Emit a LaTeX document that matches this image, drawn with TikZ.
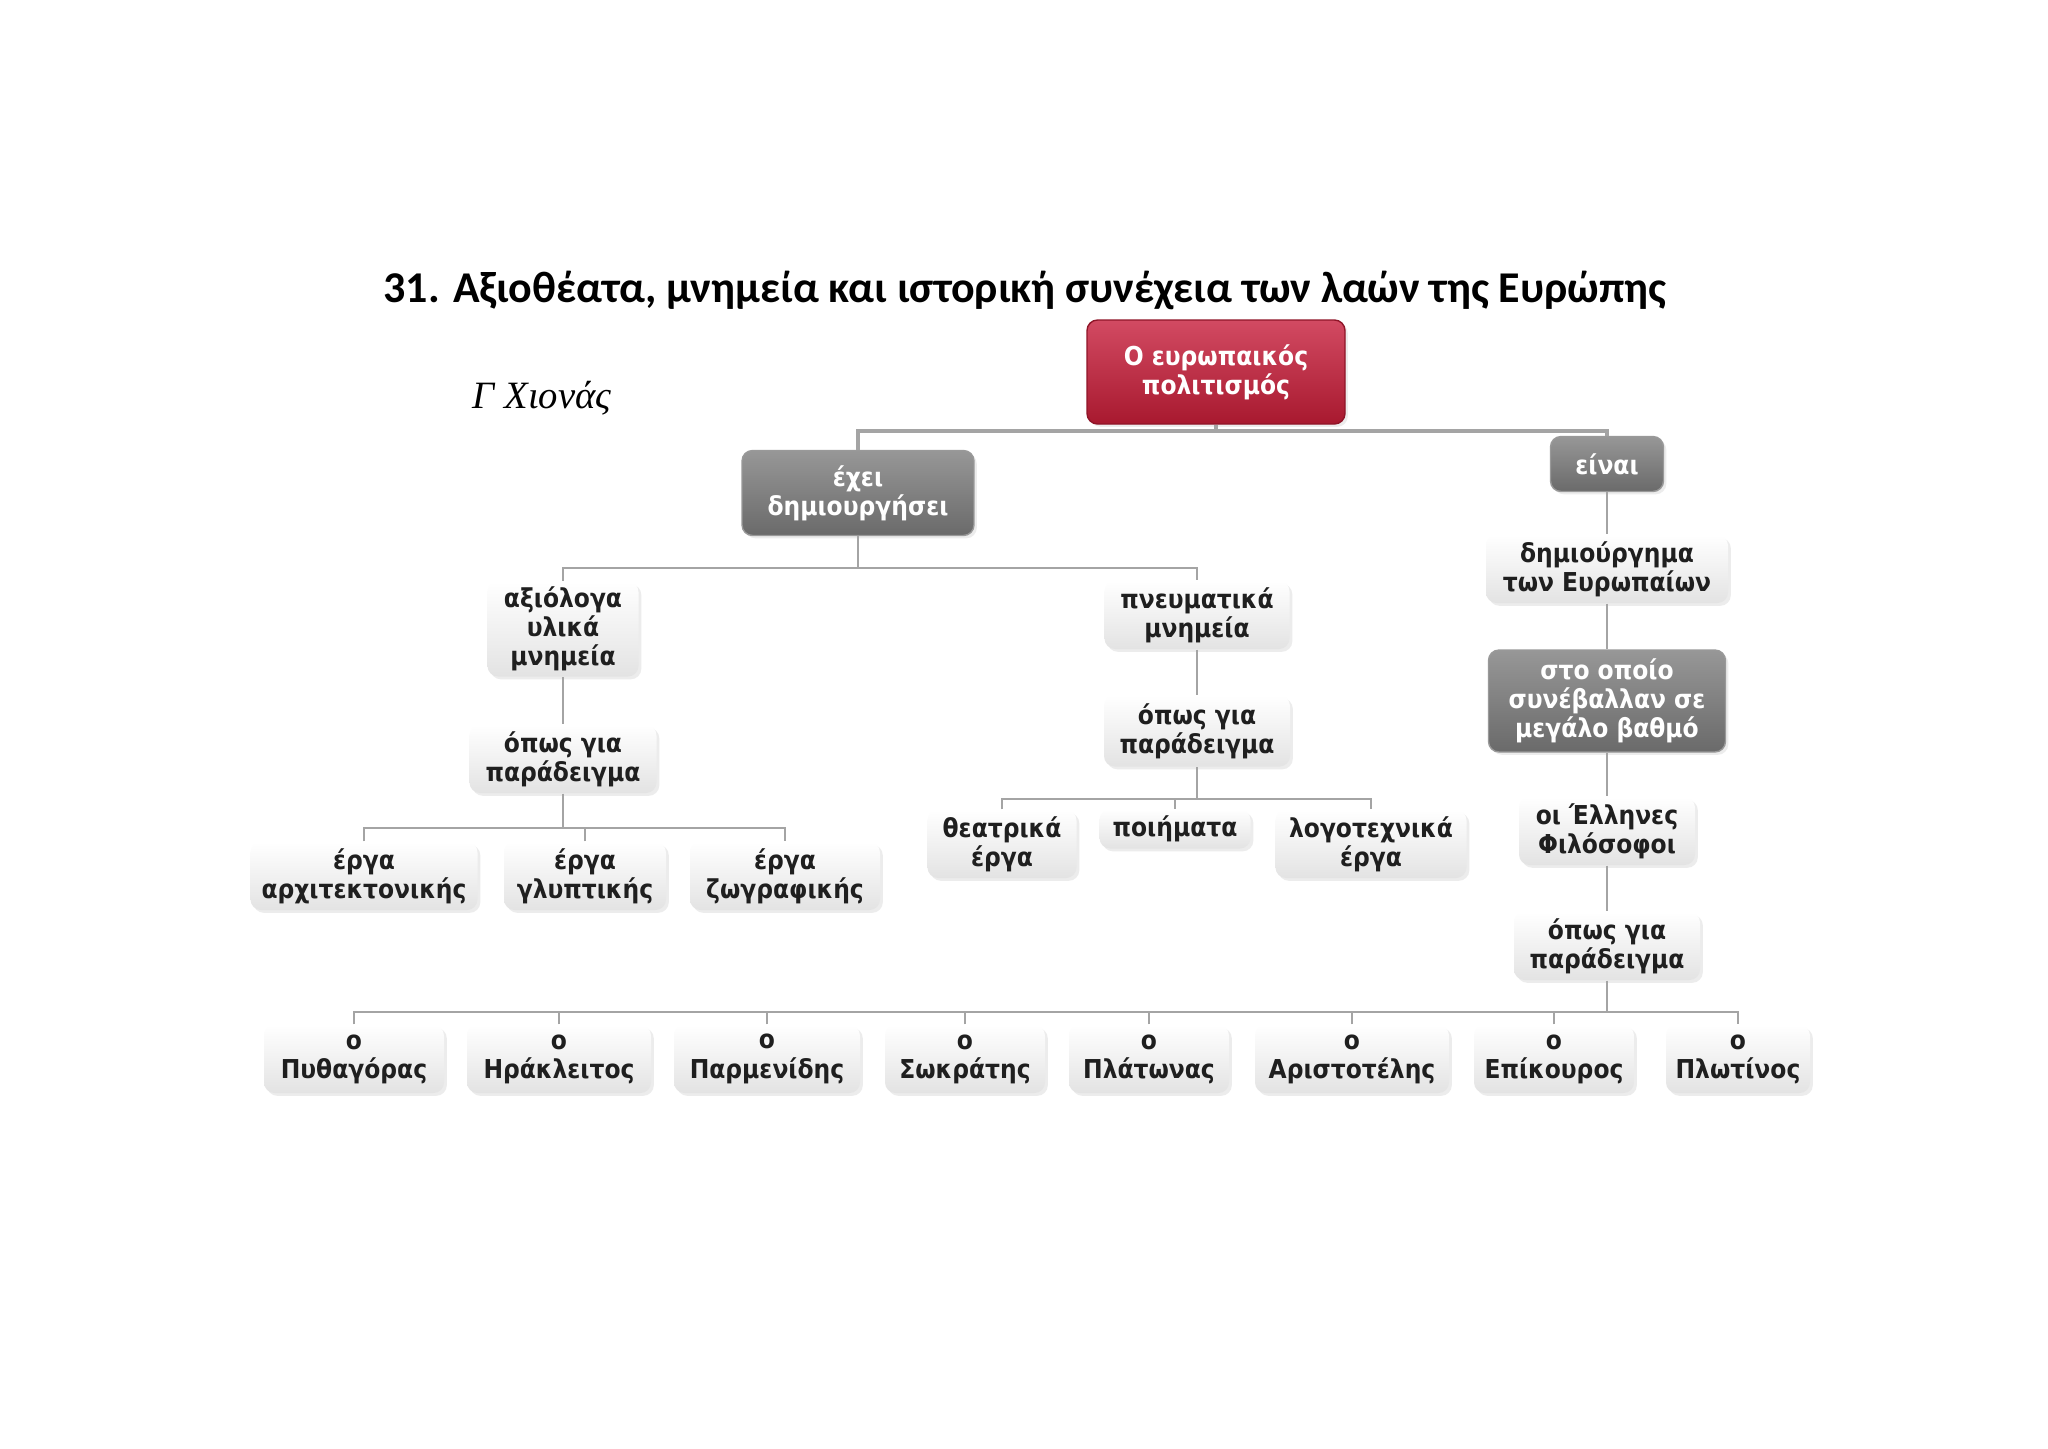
\documentclass[tikz,border=0pt]{standalone}
\usepackage{fontspec}
\setmainfont{DejaVu Sans Condensed}
\newfontfamily\titlefont{Carlito}
\newfontfamily\signfont{Liberation Serif}
\usetikzlibrary{shadows}
\definecolor{redtop}{HTML}{D24A62}
\definecolor{redbot}{HTML}{A8192F}
\definecolor{greytop}{HTML}{979797}
\definecolor{greybot}{HTML}{6A6A6A}
\definecolor{linegrey}{HTML}{A4A4A4}
\tikzset{
  sz/.style 2 args={minimum width=#1*0.01cm, minimum height=#2*0.01cm},
  box/.style={rounded corners=3pt, align=center, inner sep=1pt,
    font=\bfseries\fontsize{7.4}{8.3}\selectfont,
    drop shadow={opacity=0.15, shadow xshift=0.8pt, shadow yshift=-0.8pt}},
  lightbox/.style={box, top color=white, bottom color=black!11, text=black!88},
  darkbox/.style={box, top color=greytop, bottom color=greybot, text=white, draw=black!40},
  rootbox/.style={box, top color=redtop, bottom color=redbot, text=white, draw=redbot!85!black},
  conn/.style={draw=linegrey, line width=0.5pt},
  topbus/.style={draw=linegrey, line width=1.1pt},
}
\begin{document}
\begin{tikzpicture}[x=0.01cm, y=-0.01cm]
\useasboundingbox[fill=white] (0,0) rectangle (2048,1448);
\node(title) at (1025,290) {\titlefont\bfseries\fontsize{12.5}{15}\selectfont 31. Αξιοθέατα, μνημεία και ιστορική συνέχεια των λαών της Ευρώπης};
\node(sign) at (542,398) {\signfont\itshape\fontsize{11}{13}\selectfont Γ Χιονάς};
\node[rootbox, sz={258}{104}](root) at (1216,372) {Ο ευρωπαικός\\πολιτισμός};
\node[darkbox, sz={232}{85}](has) at (858,493) {έχει\\δημιουργήσει};
\node[darkbox, sz={113}{55}](is) at (1607,464) {είναι};
\node[lightbox, sz={151}{95}](mater) at (563,629) {αξιόλογα\\υλικά\\μνημεία};
\node[lightbox, sz={187}{68}](exL) at (563,759) {όπως για\\παράδειγμα};
\node[lightbox, sz={227}{68}](arch) at (364,876) {έργα\\αρχιτεκτονικής};
\node[lightbox, sz={162}{68}](sculpt) at (585,876) {έργα\\γλυπτικής};
\node[lightbox, sz={190}{68}](paint) at (785,876) {έργα\\ζωγραφικής};
\node[lightbox, sz={185}{68}](spirit) at (1197,615) {πνευματικά\\μνημεία};
\node[lightbox, sz={186}{71}](exM) at (1197,731) {όπως για\\παράδειγμα};
\node[lightbox, sz={149}{68}](theat) at (1002,844) {θεατρικά\\έργα};
\node[lightbox, sz={151}{39}](poems) at (1175,829) {ποιήματα};
\node[lightbox, sz={191}{68}](lit) at (1371,844) {λογοτεχνικά\\έργα};
\node[lightbox, sz={242}{68}](creat) at (1607,569) {δημιούργημα\\των Ευρωπαίων};
\node[darkbox, sz={237}{102}](contrib) at (1607,701) {στο οποίο\\συνέβαλλαν σε\\μεγάλο βαθμό};
\node[lightbox, sz={176}{68}](greeks) at (1607,831) {οι Έλληνες\\Φιλόσοφοι};
\node[lightbox, sz={186}{68}](exR) at (1607,946) {όπως για\\παράδειγμα};
\node[lightbox, sz={180}{68}](pyth) at (354,1059) {ο\\Πυθαγόρας};
\node[lightbox, sz={184}{68}](her) at (559,1059) {ο\\Ηράκλειτος};
\node[lightbox, sz={186}{68}](parm) at (767,1059) {ο\\Παρμενίδης};
\node[lightbox, sz={160}{68}](socr) at (965,1059) {ο\\Σωκράτης};
\node[lightbox, sz={160}{68}](plat) at (1149,1059) {ο\\Πλάτωνας};
\node[lightbox, sz={194}{68}](arist) at (1352,1059) {ο\\Αριστοτέλης};
\node[lightbox, sz={160}{68}](epic) at (1554,1059) {ο\\Επίκουρος};
\node[lightbox, sz={144}{68}](plot) at (1738,1059) {ο\\Πλωτίνος};
\coordinate(b0) at (0,431);
\coordinate(b1) at (0,568);
\coordinate(b2) at (0,828);
\coordinate(b3) at (0,799);
\coordinate(b4) at (0,1012);
\draw[topbus] (root.south) -- (root.south |- b0);
\draw[topbus] (has.north) -- (has.north |- b0) -- (is.north |- b0) -- (is.north);
\draw[conn] (has.south) -- (has.south |- b1);
\draw[conn] (mater.north) -- (mater.north |- b1) -- (spirit.north |- b1) -- (spirit.north);
\draw[conn] (mater) -- (exL);
\draw[conn] (exL.south) -- (exL.south |- b2);
\draw[conn] (arch.north) -- (arch.north |- b2) -- (paint.north |- b2) -- (paint.north);
\draw[conn] (sculpt.north) -- (sculpt.north |- b2);
\draw[conn] (spirit) -- (exM);
\draw[conn] (exM.south) -- (exM.south |- b3);
\draw[conn] (theat.north) -- (theat.north |- b3) -- (lit.north |- b3) -- (lit.north);
\draw[conn] (poems.north) -- (poems.north |- b3);
\draw[conn] (is) -- (creat) -- (contrib) -- (greeks) -- (exR);
\draw[conn] (exR.south) -- (exR.south |- b4);
\draw[conn] (pyth.north) -- (pyth.north |- b4) -- (plot.north |- b4) -- (plot.north);
\draw[conn] (her.north) -- (her.north |- b4);
\draw[conn] (parm.north) -- (parm.north |- b4);
\draw[conn] (socr.north) -- (socr.north |- b4);
\draw[conn] (plat.north) -- (plat.north |- b4);
\draw[conn] (arist.north) -- (arist.north |- b4);
\draw[conn] (epic.north) -- (epic.north |- b4);
\end{tikzpicture}
\end{document}
